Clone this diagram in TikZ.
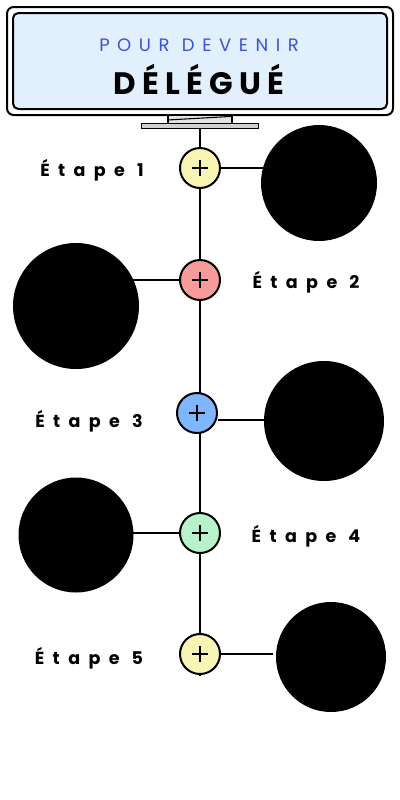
\documentclass[tikz,border=0pt]{standalone}
\usepackage{fontspec}
\setmainfont{Poppins}
\newfontfamily\steplabelfont[LetterSpace=48]{Poppins Bold}
\newfontfamily\titlefont[LetterSpace=42]{Poppins}
\newfontfamily\bigtitlefont[LetterSpace=20]{Poppins Bold}
\usetikzlibrary{backgrounds}
\definecolor{screenfill}{HTML}{E2EFFC}
\definecolor{titleblue}{HTML}{3F51D6}
\definecolor{cyellow}{HTML}{F8F4B4}
\definecolor{cred}{HTML}{F79A9A}
\definecolor{cblue}{HTML}{80B5FF}
\definecolor{cgreen}{HTML}{B8F2CA}
\definecolor{standgray}{HTML}{D0D0D0}
\tikzset{
  plusnode/.style={circle, draw=black, line width=1.5pt, minimum size=40pt, inner sep=0pt,
    path picture={\draw[line width=2.2pt] ([xshift=-8pt]path picture bounding box.center) -- ([xshift=8pt]path picture bounding box.center);
                  \draw[line width=2.2pt] ([yshift=-8pt]path picture bounding box.center) -- ([yshift=8pt]path picture bounding box.center);}},
  blob/.style={circle, fill=black, inner sep=0pt},
  steplabel/.style={font=\steplabelfont\fontsize{17.5}{20}\selectfont, text=black, inner sep=0pt},
  link/.style={line width=1.3pt, draw=black},
}
\begin{document}
\begin{tikzpicture}[x=0.75pt, y=-0.75pt, every node/.append style={scale=0.75}]
\useasboundingbox (0,0) rectangle (400,800);
% monitor
\draw[line width=1.5pt, rounded corners=5pt, fill=white] (7,7) rectangle (393,115);
\node[draw=black, line width=1.5pt, rounded corners=4pt, fill=screenfill, minimum width=374pt, minimum height=96pt, inner sep=0pt] (screen) at (200,61) {};
\node[font=\titlefont\fontsize{18}{20}\selectfont, text=titleblue, inner sep=0pt] (sub) at (199,45) {POUR DEVENIR};
\node[font=\bigtitlefont\fontsize{31}{34}\selectfont, text=black, inner sep=0pt] (main) at (199,79) {DÉLÉGUÉ};
% stand
\node[draw=black, line width=1pt, fill=standgray!60, minimum width=64pt, minimum height=9pt, inner sep=0pt] (neck) at (200,120) {};
\draw[line width=0.8pt] (neck.west) -- ([yshift=-1pt]neck.north east);
\node[draw=black, line width=1pt, fill=standgray, minimum width=117pt, minimum height=4.5pt, inner sep=0pt] (base) at (200,126) {};
\coordinate (lineend) at (200,676);
% step circles
\node[plusnode, fill=cyellow] (p1) at (200,168) {};
\node[plusnode, fill=cred] (p2) at (200,280) {};
\node[plusnode, fill=cblue] (p3) at (197,413) {};
\node[plusnode, fill=cgreen] (p4) at (200,533) {};
\node[plusnode, fill=cyellow] (p5) at (200,654) {};
% black discs
\node[blob, minimum size=116pt] (b1) at (319,183) {};
\node[blob, minimum size=126pt] (b2) at (76,306) {};
\node[blob, minimum size=120pt] (b3) at (324,421) {};
\node[blob, minimum size=115pt] (b4) at (76,535) {};
\node[blob, minimum size=110pt] (b5) at (331,657) {};
% labels
\node[steplabel] (l1) at (92,170) {Étape 1};
\node[steplabel] (l2) at (306,282) {Étape 2};
\node[steplabel] (l3) at (89,421) {Étape 3};
\node[steplabel] (l4) at (306,536) {Étape 4};
\node[steplabel] (l5) at (89,658) {Étape 5};
% connectors
\begin{pgfonlayer}{background}
\draw[link] (base.south) -- (lineend);
\draw[link] (p1.east) -- (p1 -| b1.center);
\draw[link] (p2.west) -- (p2 -| b2.center);
\draw[link] ([yshift=-5pt]p3.east) -- ([yshift=-5pt]p3 -| b3.center);
\draw[link] (p4.west) -- (p4 -| b4.center);
\end{pgfonlayer}
\coordinate (c5) at (273,654);
\draw[link] (p5.east) -- (c5);
\end{tikzpicture}
\end{document}
